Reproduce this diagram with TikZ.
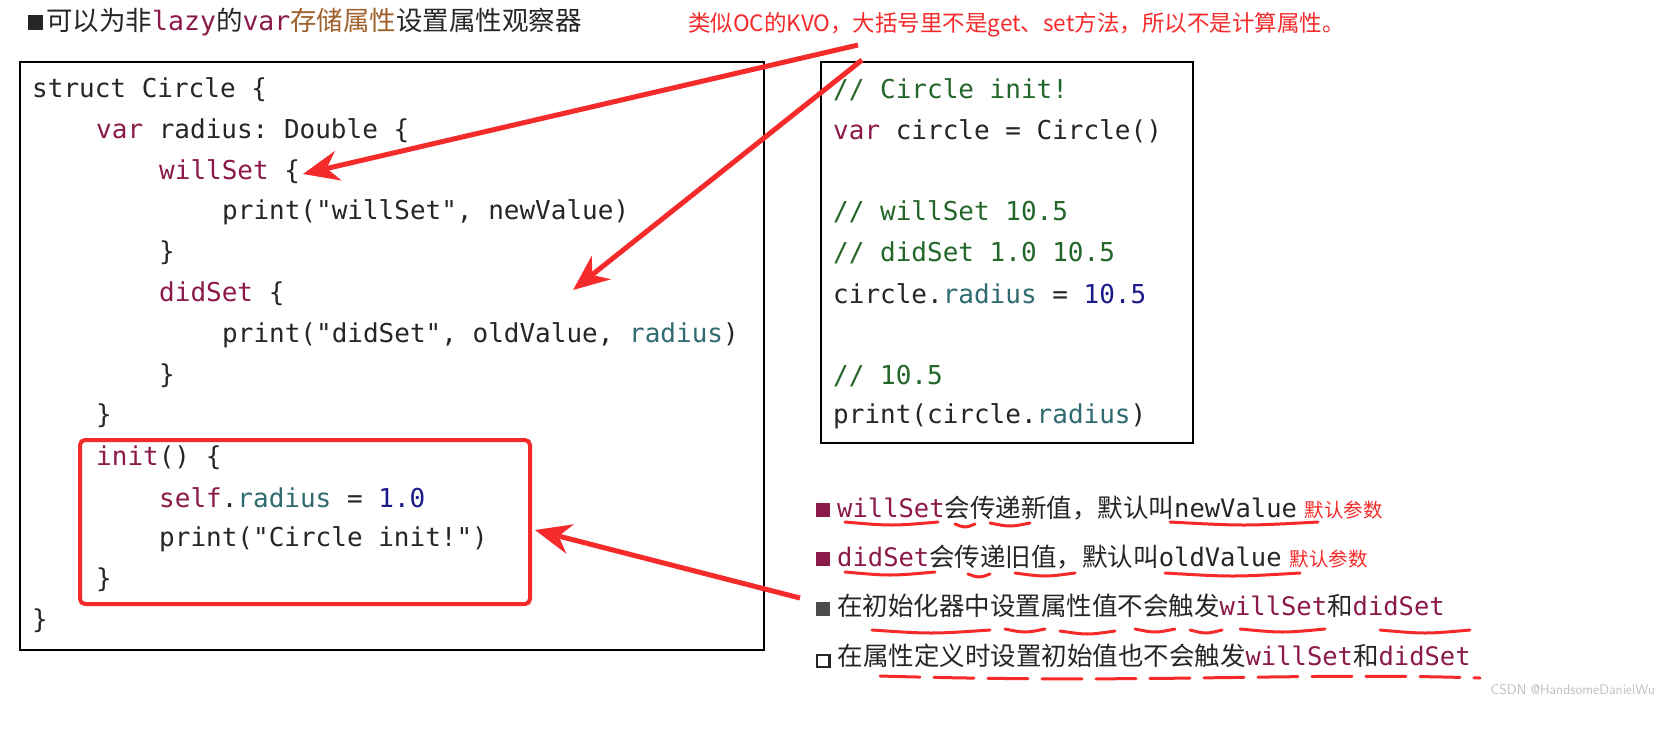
\documentclass[tikz,border=0pt]{standalone}
\usepackage{fontspec}
\setmonofont{DejaVu Sans Mono}
\newfontfamily\cjk{Noto Sans CJK SC}
\usetikzlibrary{arrows.meta}
\definecolor{kw}{HTML}{8B1A4A}
\definecolor{cm}{HTML}{23662A}
\definecolor{tl}{HTML}{2F6B70}
\definecolor{nm}{HTML}{1A1A8A}
\definecolor{br}{HTML}{A0622D}
\definecolor{rd}{HTML}{F52A2A}
\begin{document}
\begin{tikzpicture}[x=1pt,y=-1pt,
  code/.style={anchor=west,inner sep=0pt,font=\fontsize{26}{26}\ttfamily,text=black!85},
  bul/.style={anchor=west,inner sep=0pt,font=\fontsize{25.5}{25.5}\cjk,text=black!85},
  rarrow/.style={draw=rd,line width=5pt,-{Stealth[length=36pt,width=30pt]}},
  und/.style={draw=rd,line width=3pt,line cap=round}]
\useasboundingbox (0,0) rectangle (1657,739);
\fill[white] (0,0) rectangle (1657,739);
% title
\node[anchor=west,inner sep=0pt,font=\fontsize{26.5}{26.5}\cjk,text=black!85] (title) at (28,22) {\rule{15pt}{15pt}\hspace{3pt}可以为非\texttt{\color{kw}lazy}的\texttt{\color{kw}var}{\color{br}存储属性}设置属性观察器};
\node[anchor=west,inner sep=0pt,font=\fontsize{22.5}{22.5}\cjk,text=rd] (note) at (688,25) {类似OC的KVO，大括号里不是get、set方法，所以不是计算属性。};
% boxes
\draw[line width=1.2pt] (20,62) rectangle (764,650);
\draw[line width=1.2pt] (821,62) rectangle (1193,443);
\node[code] (l1) at (32,90) {struct Circle \{};
\node[code] (l2) at (96,131) {{\color{kw}var} radius: Double \{};
\node[code] (l3) at (159,172) {{\color{kw}willSet} \{};
\node[code] (l4) at (222,212) {print("willSet", newValue)};
\node[code] (l5) at (159,253) {\}};
\node[code] (l6) at (159,294) {{\color{kw}didSet} \{};
\node[code] (l7) at (222,335) {print("didSet", oldValue, {\color{tl}radius})};
\node[code] (l8) at (159,376) {\}};
\node[code] (l9) at (96,416) {\}};
\node[code] (l10) at (96,458) {{\color{kw}init}() \{};
\node[code] (l11) at (159,498) {{\color{kw}self}.{\color{tl}radius} = {\color{nm}1.0}};
\node[code] (l12) at (159,539) {print("Circle init!")};
\node[code] (l13) at (96,580) {\}};
\node[code] (l14) at (32,621) {\}};
\node[code] (r1) at (833,90) {\color{cm}// Circle init!};
\node[code] (r2) at (833,131) {{\color{kw}var} circle = Circle()};
\node[code] (r3) at (833,212) {\color{cm}// willSet 10.5};
\node[code] (r4) at (833,253) {\color{cm}// didSet 1.0 10.5};
\node[code] (r5) at (833,294) {circle.{\color{tl}radius} = {\color{nm}10.5}};
\node[code] (r6) at (833,376) {\color{cm}// 10.5};
\node[code] (r7) at (833,416) {print(circle.{\color{tl}radius})};
\draw[rd,line width=4pt,rounded corners=5pt] (80,440) rectangle (530,604);
% bullets
\node[bul] (b1) at (816,508) {{\color{kw}\rule{14pt}{14pt}}\hspace{7pt}\texttt{\color{kw}willSet}会传递新值，默认叫\texttt{newValue}\hspace{8pt}{\fontsize{19.5}{19.5}\selectfont\color{rd}默认参数}};
\node[bul] (b2) at (816,557) {{\color{kw}\rule{14pt}{14pt}}\hspace{7pt}\texttt{\color{kw}didSet}会传递旧值，默认叫\texttt{oldValue}\hspace{8pt}{\fontsize{19.5}{19.5}\selectfont\color{rd}默认参数}};
\node[bul] (b3) at (816,606) {{\color{black!70}\rule{14pt}{14pt}}\hspace{7pt}在初始化器中设置属性值不会触发\texttt{\color{kw}willSet}和\texttt{\color{kw}didSet}};
\node[bul] (b4) at (816,656) {\fboxsep=0pt\fboxrule=2.2pt\fbox{\phantom{\rule{10pt}{10pt}}}\hspace{7pt}在属性定义时设置初始值也不会触发\texttt{\color{kw}willSet}和\texttt{\color{kw}didSet}};
% arrows
\coordinate (s1) at (858,45);
\coordinate (s2) at (862,60);
\coordinate (s3) at (800,598);
\coordinate (t1) at (303,174);
\coordinate (t2) at (573,290);
\coordinate (t3) at (535,530);
\draw[rarrow] (s1) -- (t1);
\draw[rarrow] (s2) -- (t2);
\draw[rarrow] (s3) -- (t3);
% underlines
\foreach \a/\b/\y in {845/938/522,955/975/524,990/1030/523,1170/1318/522,
  845/935/572,968/990/574,1015/1075/573,1165/1300/573,
  872/990/630,1005/1045/629,1060/1115/631,1135/1175/629,1190/1222/630,1240/1325/629,1380/1470/630}
  \draw[und] (\a,\y) .. controls ({(\a+\b)/2},\y+4) .. (\b,\y);
\draw[und,dash pattern=on 40pt off 14pt] (880,676) .. controls (1150,684) and (1300,672) .. (1480,678);
\node[anchor=south east,inner sep=2pt,font=\fontsize{14}{14}\selectfont\sffamily,text=black!25] (wm) at (1657,697) {CSDN @HandsomeDanielWu};
\end{tikzpicture}
\end{document}
